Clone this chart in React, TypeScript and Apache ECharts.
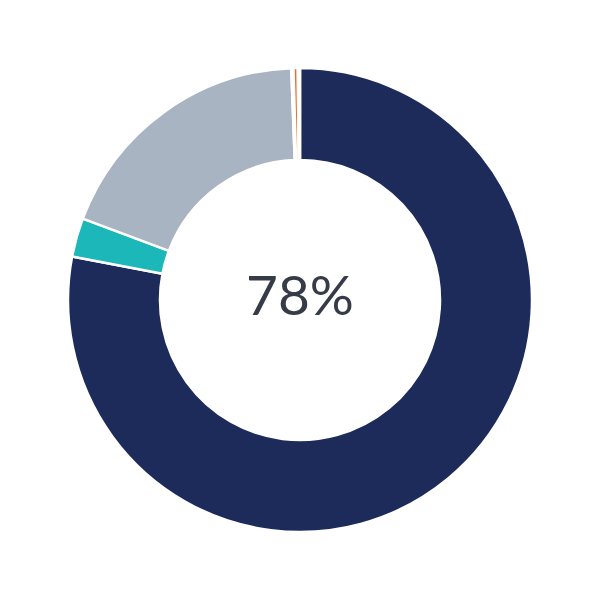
import React, { useEffect, useRef } from "react";
import * as echarts from "echarts";

const categories = ["A", "B", "C", "D", "E", "F"];
const values = [78, 2.7, 18.7, 0.15, 0.3, 0.15];
const colors = ["#1c2b5a", "#1cb8b9", "#a9b4c2", "#ffffff", "#e8702a", "#ffffff"];
const centerLabel = "78%";

export default function App() {
  const ref = useRef<HTMLDivElement>(null);
  useEffect(() => {
    if (!ref.current) return;
    const chart = echarts.init(ref.current, null, { renderer: "svg" });
    chart.setOption({
      animation: false,
      backgroundColor: "#ffffff",
      graphic: [
        {
          type: "text",
          x: 300,
          y: 294,
          style: {
            text: centerLabel,
            fontFamily: "Lato",
            fontSize: 55,
            fontWeight: "normal",
            fill: "#363c47",
            align: "center",
            verticalAlign: "middle",
          },
          z: 10,
        },
      ],
      series: [
        {
          type: "pie",
          center: [300, 300],
          radius: [140, 232],
          startAngle: 90,
          clockwise: true,
          label: { show: false },
          labelLine: { show: false },
          itemStyle: { borderColor: "#ffffff", borderWidth: 2.5 },
          data: categories.map((c, i) => ({
            name: c,
            value: values[i],
            itemStyle: { color: colors[i] },
          })),
        },
      ],
    });
    return () => chart.dispose();
  }, []);
  return (
    <div
      ref={ref}
      style={{ position: "fixed", left: 0, top: 0, width: 600, height: 600 }}
    />
  );
}
